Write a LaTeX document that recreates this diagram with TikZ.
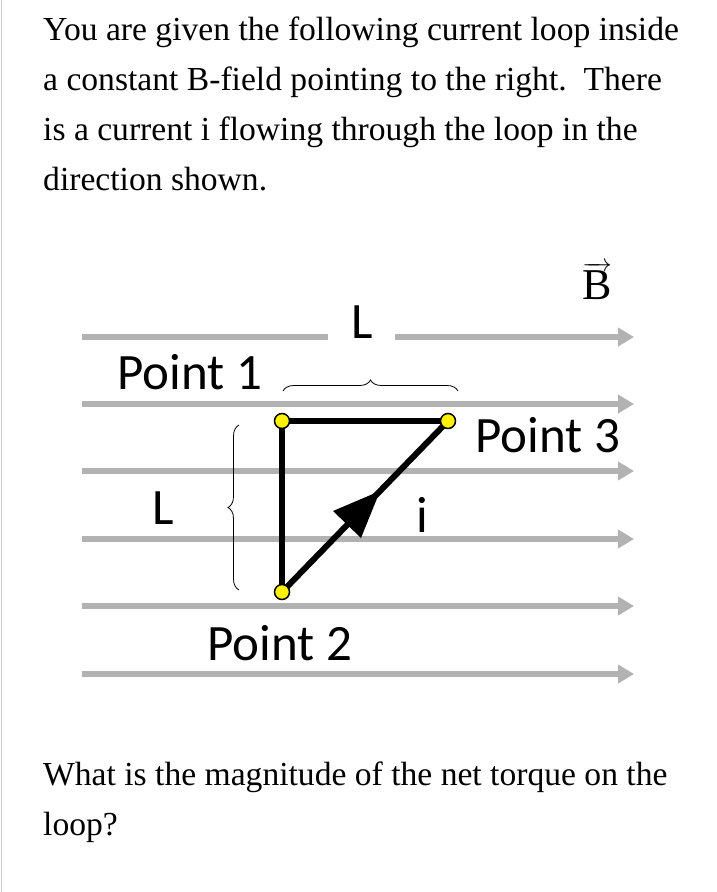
\documentclass[tikz,border=0pt]{standalone}
\usepackage{fontspec}
\setmainfont{Liberation Serif}
\newfontfamily\lbl{Carlito}
\usetikzlibrary{arrows.meta,decorations.pathreplacing,calc}
\tikzset{
  txt/.style={anchor=base west,inner sep=0pt,font=\fontsize{33.6}{40}\selectfont},
  fld/.style={line width=6pt,draw=gray!60,-{Triangle[length=16pt,width=18pt]}},
  lab/.style={inner sep=0pt,font=\lbl\fontsize{51}{56}\selectfont},
  wire/.style={line width=6pt,black},
  pt/.style={circle,draw=black,fill=yellow,line width=1.5pt,minimum size=15pt,inner sep=0pt},
  brc/.style={draw,line width=0.8pt,decorate,decoration={brace,amplitude=11pt}}
}
\begin{document}
\begin{tikzpicture}[x=1pt,y=-1pt]
\useasboundingbox[fill=white] (0,0) rectangle (716,892);
\draw[gray!40,line width=1pt] (1,0) -- (1,892);
\node[txt] (t1) at (43,40) {You are given the following current loop inside};
\node[txt] (t2) at (43,90) {a constant B-field pointing to the right.\ \ There};
\node[txt] (t3) at (43,140) {is a current i flowing through the loop in the};
\node[txt] (t4) at (43,190) {direction shown.};
\node[txt] (t5) at (43,785) {What is the magnitude of the net torque on the};
\node[txt] (t6) at (43,835) {loop?};
% field lines
\coordinate (a0) at (82,337); \coordinate (b0) at (328,337);
\coordinate (c0) at (395,337); \coordinate (d0) at (634,337);
\draw[line width=6pt,gray!60] (a0) -- (b0);
\draw[fld] (c0) -- (d0);
\foreach \y [count=\k] in {404,471,539,606,674}{
  \coordinate (fa\k) at (82,\y); \coordinate (fb\k) at (634,\y);
  \draw[fld] (fa\k) -- (fb\k);
}
\node[inner sep=0pt,font=\fontsize{44}{48}\selectfont] (B) at (597,281) {$\overrightarrow{\mathrm{B}}$};
% loop
\coordinate (P1) at (282,421); \coordinate (P3) at (448,421); \coordinate (P2) at (282,592);
\draw[wire,line join=round] (P2) -- (P1) -- (P3);
\draw[wire] (P2) -- (P3);
\coordinate (h1) at (380,491); \coordinate (h2) at (361,538); \coordinate (h3) at (333,511);
\fill (h1) -- (h2) -- (h3) -- cycle;
\node[pt] (n1) at (P1) {};
\node[pt] (n3) at (P3) {};
\node[pt] (n2) at (P2) {};
% braces
\coordinate (ba) at (283,391); \coordinate (bb) at (458,391);
\draw[brc] (ba) -- (bb);
\coordinate (la) at (239,590); \coordinate (lb) at (239,425);
\draw[brc] (la) -- (lb);
% labels
\node[lab] (L1) at (362,322) {L};
\node[lab] (L2) at (163,508) {L};
\node[lab] (i) at (422,515) {i};
\node[lab] (pp1) at (190,372) {Point 1};
\node[lab] (pp3) at (548,435) {Point 3};
\node[lab] (pp2) at (280,643) {Point 2};
\end{tikzpicture}
\end{document}
